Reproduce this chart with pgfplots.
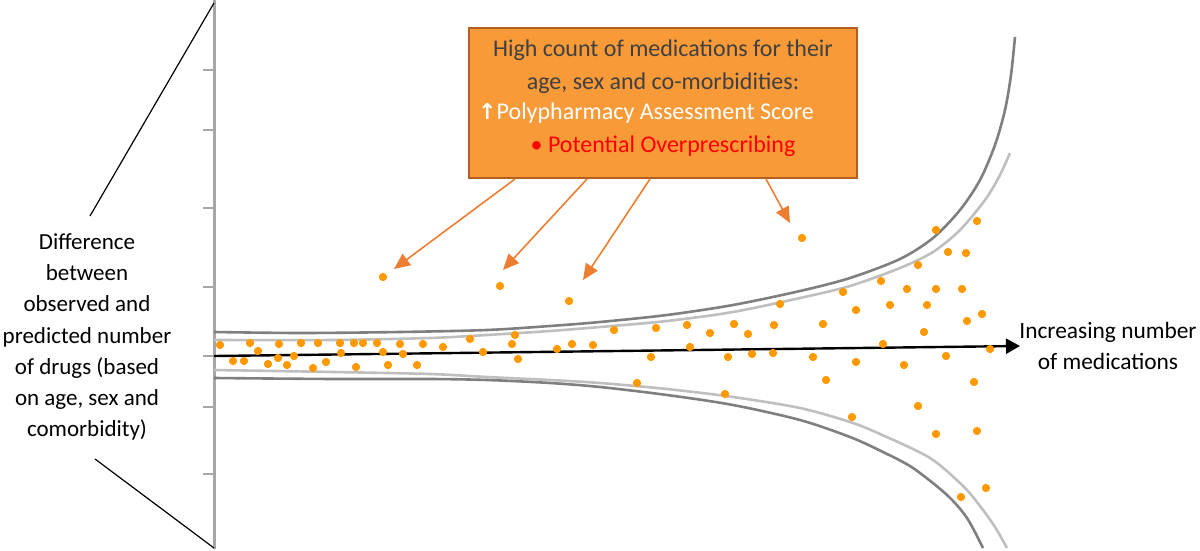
\documentclass[border=0pt]{standalone}
\usepackage{fontspec}
\setmainfont{Carlito}
\newfontfamily\djv{DejaVu Sans}
\usepackage{pgfplots}
\pgfplotsset{compat=1.18}
\usetikzlibrary{arrows.meta}
\definecolor{dotc}{HTML}{FF9900}
\definecolor{arrc}{HTML}{ED7D31}
\definecolor{boxfill}{HTML}{F99A38}
\definecolor{boxdraw}{HTML}{B3601F}
\definecolor{darkg}{HTML}{7F7F7F}
\definecolor{lightg}{HTML}{BFBFBF}
\definecolor{axg}{HTML}{A6A6A6}
\definecolor{txtg}{HTML}{404040}
\begin{document}
\begin{tikzpicture}
\begin{axis}[scale only axis, width=600pt, height=275.5pt,
  xmin=0, xmax=1200, ymin=0, ymax=551, y dir=reverse,
  hide axis, clip=false]
\coordinate (BL) at (axis cs:0,551);
\coordinate (TR) at (axis cs:1200,0);
% vertical axis and ticks
\addplot[axg, line width=1.5pt, forget plot] coordinates {(214,0) (214,549)};
\foreach \yy in {70,130,208,287,356,407,474}{
  \edef\temp{\noexpand\addplot[axg, line width=1.2pt, forget plot] coordinates {(203,\yy) (214,\yy)};}
  \temp
}
% diagonal lines
\addplot[black, line width=0.6pt] coordinates {(214,3) (90,216)};
\addplot[black, line width=0.6pt] coordinates {(95,459) (214,548)};
% funnel limits
\addplot[darkg, line width=1.3pt, smooth, tension=0.5] coordinates {
(214,332) (300,333) (400,332) (487,330) (550,326) (600,322) (667,315) (733,305) (800,291)
(850,278) (900,259) (933,238) (960,210) (980,180) (995,145) (1005,110) (1011,75) (1015,37)};
\addplot[lightg, line width=1.3pt, smooth, tension=0.5] coordinates {
(214,340) (333,340) (430,338) (487,335) (550,331) (600,327) (667,321) (733,312) (800,298)
(850,286) (900,268) (933,252) (960,230) (985,200) (1000,175) (1010,153)};
\addplot[lightg, line width=1.3pt, smooth, tension=0.5] coordinates {
(214,370) (333,372) (430,374) (487,377) (550,380) (600,383) (667,389) (733,397) (800,408)
(850,422) (880,434) (930,458) (963,486) (980,506) (995,527) (1007,548)};
\addplot[darkg, line width=1.3pt, smooth, tension=0.5] coordinates {
(214,378) (333,379) (430,379) (487,380) (550,383) (600,387) (667,395) (733,405) (800,420)
(850,437) (883,452) (913,468) (947,495) (967,518) (983,548)};
% points
\addplot[only marks, mark=*, mark size=1.85pt, dotc, mark options={draw=dotc, fill=dotc}] coordinates {
(220,345) (233,361) (244,361) (250,343) (258,351) (268,364) (278,358) (279,344) (287,365)
(294,356) (301,343) (313,368) (318,343) (326,362) (340,343) (341,353) (354,343) (356,367)
(363,343) (377,343) (383,352) (388,365) (400,344) (403,354) (417,365) (423,344) (443,347)
(470,339) (483,352) (512,344) (515,335) (518,359) (557,349) (572,344) (593,345)
(383,277) (500,286) (569,301)
(802,238) (614,330) (656,328) (687,325) (710,333) (734,324) (748,334) (774,325) (780,304)
(690,347) (651,357) (728,357) (752,354) (773,353) (813,357) (823,324) (843,292) (856,310)
(856,362) (826,380) (852,417) (637,383) (725,394) (881,281) (890,305) (883,344) (904,365)
(907,289) (918,265) (927,305) (924,332) (936,230) (936,289) (948,252) (966,253) (962,289)
(977,221) (967,321) (982,314) (946,356) (990,349) (974,382) (918,406) (936,434) (977,431)
(961,497) (986,488)};
% trend arrow
\draw[black, line width=1.2pt, -{Triangle[length=7pt,width=7.5pt]}] (axis cs:214,356) -- (axis cs:1020,346);
% box
\draw[boxdraw, line width=1pt, fill=boxfill] (axis cs:469,28) rectangle (axis cs:857,178);
\node[txtg, font=\fontsize{12}{14}\selectfont] at (axis cs:663,50) {High count of medications for their};
\node[txtg, font=\fontsize{12}{14}\selectfont] at (axis cs:663,83) {age, sex and co-morbidities:};
\node[white, font=\fontsize{12}{14}\selectfont] at (axis cs:646,113) {{\djv\bfseries\fontsize{11}{14}\selectfont ↑}Polypharmacy Assessment Score};
\node[red, font=\fontsize{12}{14}\selectfont] at (axis cs:663,146) {•\ Potential Overprescribing};
% annotation arrows
\draw[arrc, line width=0.8pt, -{Triangle[length=8pt,width=7pt]}] (axis cs:515,179) -- (axis cs:394,269);
\draw[arrc, line width=0.8pt, -{Triangle[length=8pt,width=7pt]}] (axis cs:587,179) -- (axis cs:503,270);
\draw[arrc, line width=0.8pt, -{Triangle[length=8pt,width=7pt]}] (axis cs:650,179) -- (axis cs:583,280);
\draw[arrc, line width=0.8pt, -{Triangle[length=8pt,width=7pt]}] (axis cs:766,179) -- (axis cs:790,223);
% left label
\node[black, align=center, font=\fontsize{11.5}{15.65}\selectfont] at (axis cs:87,337)
 {Difference\\between\\observed and\\predicted number\\of drugs (based\\on age, sex and\\comorbidity)};
% right label
\node[black, align=center, font=\fontsize{11.7}{15.65}\selectfont] at (axis cs:1108,346)
 {Increasing number\\of medications};
\end{axis}
\pgfresetboundingbox
\path (BL) rectangle (TR);
\end{tikzpicture}
\end{document}
